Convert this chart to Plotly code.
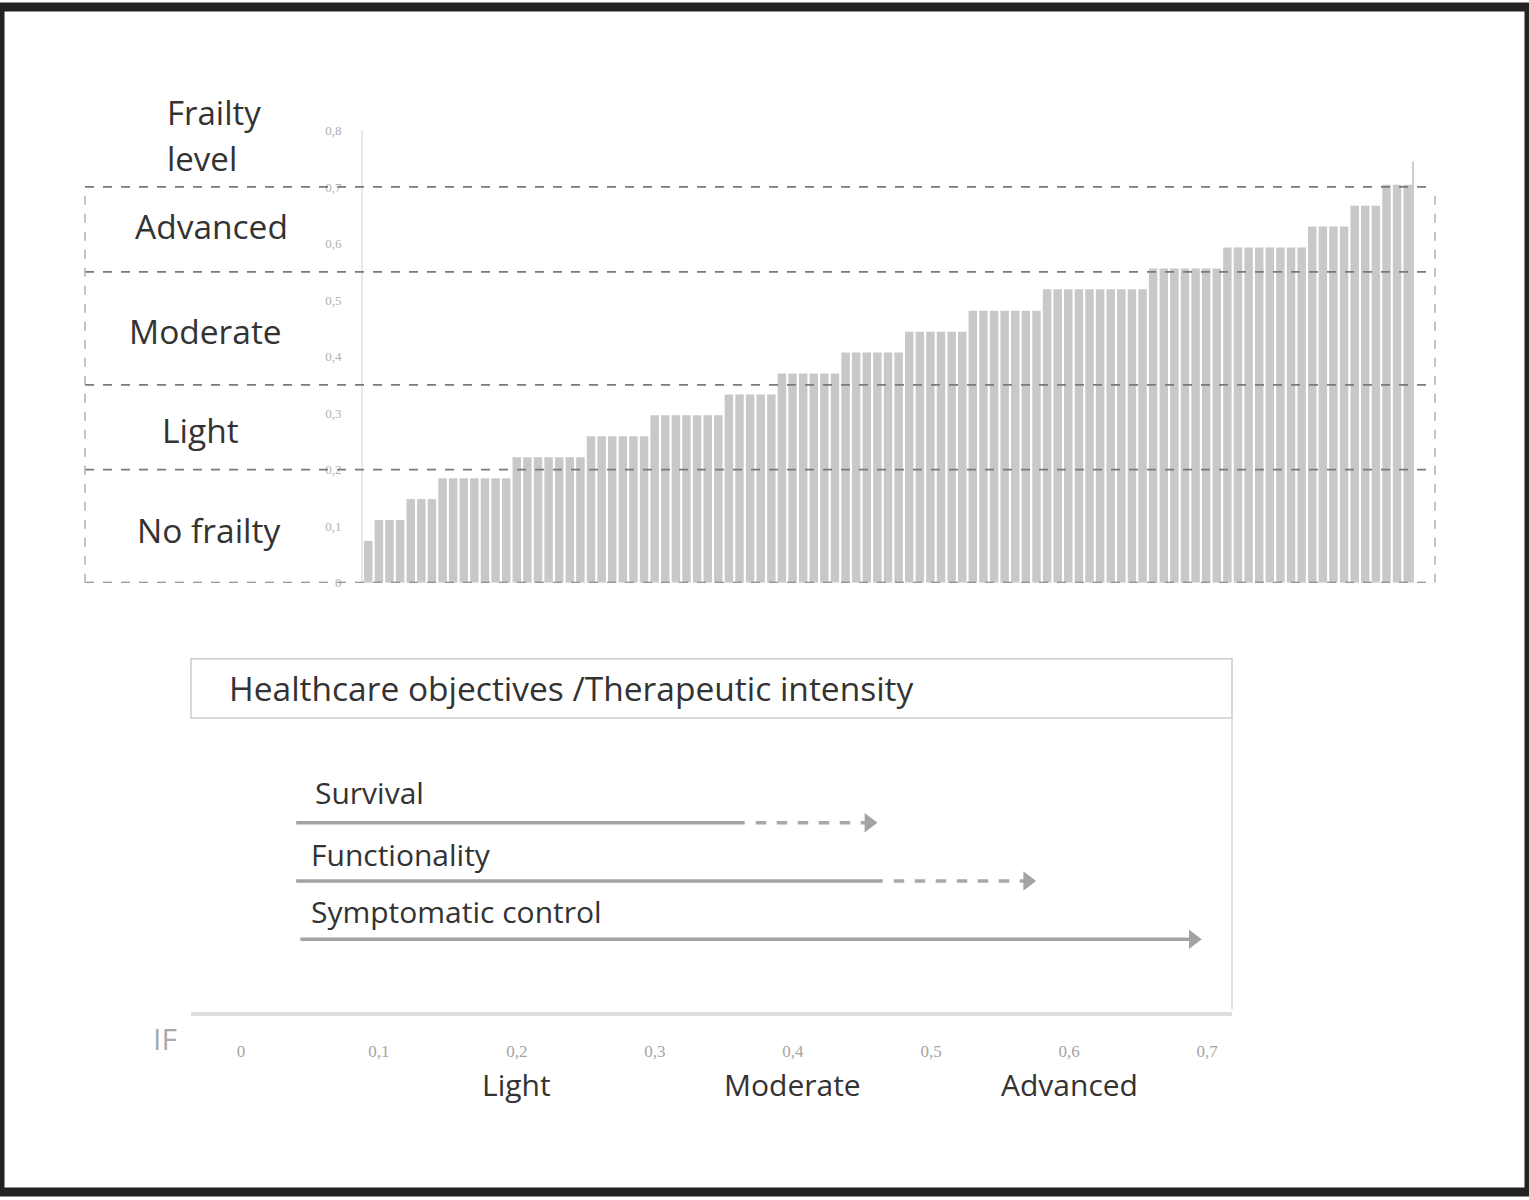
import plotly.graph_objects as go

W, H = 1529, 1200

# ---------------- data ----------------
# frailty index levels (sorted patients) and number of patients at each level
fi_levels = [0.074, 0.111, 0.148, 0.185, 0.222, 0.259, 0.296, 0.333, 0.370,
             0.407, 0.444, 0.481, 0.519, 0.556, 0.593, 0.630, 0.667, 0.704]
fi_counts = [1, 3, 3, 7, 7, 6, 7, 5, 6, 6, 6, 7, 10, 7, 8, 4, 3, 3]

thresholds = [0.2, 0.35, 0.55, 0.7]
level_names = ["No frailty", "Light", "Moderate", "Advanced"]

y_ticks = [0, 0.1, 0.2, 0.3, 0.4, 0.5, 0.6, 0.7, 0.8]
y_ticktext = ["0", "0,1", "0,2", "0,3", "0,4", "0,5", "0,6", "0,7", "0,8"]

x_ticks = [0, 0.1, 0.2, 0.3, 0.4, 0.5, 0.6, 0.7]
x_ticktext = ["0", "0,1", "0,2", "0,3", "0,4", "0,5", "0,6", "0,7"]

objectives = ["Survival", "Functionality", "Symptomatic control"]
obj_start = [0.04, 0.04, 0.043]
obj_solid_end = [0.365, 0.465, 0.69]
obj_dashed_end = [0.455, 0.57, None]

bottom_cats = ["Light", "Moderate", "Advanced"]
bottom_cat_pos = [0.2, 0.4, 0.6]

# ---------------- helpers ----------------
def X(px):
    return px / W

def Y(py):
    return 1 - py / H

bars = []
for lv, n in zip(fi_levels, fi_counts):
    bars.extend([lv] * n)
idx = list(range(len(bars)))

TXT = "#333333"
FONT = "Open Sans"

fig = go.Figure()

fig.add_trace(go.Bar(x=idx, y=bars, marker=dict(color="#c8c8c8", line=dict(width=0)),
                     xaxis="x", yaxis="y", showlegend=False, hoverinfo="y"))

# objective arrows
obj_y = [0.536, 0.3715, 0.2067]
for name, s, e, d, yy in zip(objectives, obj_start, obj_solid_end, obj_dashed_end, obj_y):
    fig.add_trace(go.Scatter(x=[s, e], y=[yy, yy], mode="lines",
                             line=dict(color="#a3a3a3", width=3.5),
                             xaxis="x2", yaxis="y2", showlegend=False, hoverinfo="skip"))
    end = e
    if d is not None:
        fig.add_trace(go.Scatter(x=[e + 0.008, d], y=[yy, yy], mode="lines",
                                 line=dict(color="#a8a8a8", width=3.5, dash="dash"),
                                 xaxis="x2", yaxis="y2", showlegend=False, hoverinfo="skip"))
        end = d
    fig.add_trace(go.Scatter(x=[end], y=[yy], mode="markers",
                             marker=dict(symbol="triangle-right", size=17, color="#a3a3a3"),
                             xaxis="x2", yaxis="y2", showlegend=False, hoverinfo="skip"))

shapes = []
dash_col = "#7a7a7a"
for t in [0] + thresholds:
    shapes.append(dict(type="line", xref="paper", yref="y", x0=X(85), x1=X(1435), y0=t, y1=t,
                       line=dict(color=dash_col, width=1.7, dash="dash")))
for xp in [85, 1435]:
    shapes.append(dict(type="line", xref="paper", yref="y", x0=X(xp), x1=X(xp), y0=0, y1=0.7,
                       line=dict(color="#b0b0b0", width=1.5, dash="dash")))
# right thin axis line
shapes.append(dict(type="line", xref="paper", yref="y", x0=X(1413), x1=X(1413), y0=0, y1=0.745,
                   line=dict(color="#9a9a9a", width=1)))
# header box
shapes.append(dict(type="rect", xref="paper", yref="paper", x0=X(191), x1=X(1232), y0=Y(720), y1=Y(660),
                   line=dict(color="#cccccc", width=1.5)))
shapes.append(dict(type="line", xref="paper", yref="paper", x0=X(1232), x1=X(1232), y0=Y(1015), y1=Y(720),
                   line=dict(color="#e2e2e2", width=2)))
# outer frame
shapes.append(dict(type="rect", xref="paper", yref="paper", x0=0, x1=1, y0=0, y1=1,
                   line=dict(color="#222222", width=9)))

ann = []
for word, py in [("Frailty", 107), ("level", 153)]:
    ann.append(dict(text=word, x=X(165), y=Y(py), xref="paper", yref="paper",
                    xanchor="left", yanchor="middle", showarrow=False,
                    font=dict(family=FONT, size=33, color=TXT)))
left_pos = {"Advanced": (211, 222), "Moderate": (205, 328), "Light": (200, 428), "No frailty": (209, 530)}
for nm in level_names:
    px, py = left_pos[nm]
    ann.append(dict(text=nm, x=X(px), y=Y(py), xref="paper", yref="paper", xanchor="center",
                    yanchor="middle", showarrow=False, font=dict(family=FONT, size=33.5, color=TXT)))

ann.append(dict(text="Healthcare objectives /Therapeutic intensity", x=X(227), y=Y(690), xref="paper",
                yref="paper", xanchor="left", yanchor="middle", showarrow=False,
                font=dict(family=FONT, size=33.5, color=TXT)))
for nm, py, px in zip(objectives, [795, 858, 916], [313, 309, 309]):
    ann.append(dict(text=nm, x=X(px), y=Y(py), xref="paper", yref="paper", xanchor="left",
                    yanchor="middle", showarrow=False, font=dict(family=FONT, size=30, color=TXT)))
for nm, p in zip(bottom_cats, bottom_cat_pos):
    ann.append(dict(text=nm, x=p, y=Y(1091), xref="x2", yref="paper", xanchor="center",
                    yanchor="middle", showarrow=False, font=dict(family=FONT, size=30, color=TXT)))
ann.append(dict(text="IF", x=X(165), y=Y(1045), xref="paper", yref="paper", xanchor="center",
                yanchor="middle", showarrow=False, font=dict(family=FONT, size=30, color="#aaaaaa")))

fig.update_layout(
    width=W, height=H, margin=dict(l=0, r=0, t=0, b=0),
    paper_bgcolor="white", plot_bgcolor="rgba(0,0,0,0)",
    bargap=0.2, showlegend=False,
    xaxis=dict(domain=[X(363), X(1413)], range=[-0.5, len(bars) - 0.5], visible=False, anchor="y"),
    yaxis=dict(domain=[Y(583), Y(125)], range=[0, 0.8], tickvals=y_ticks, ticktext=y_ticktext,
               tickfont=dict(family="Liberation Serif", size=13, color="#b0b0b0"),
               showline=True, linecolor="#e8e8e8", linewidth=2, showgrid=False, zeroline=False,
               ticks="", ticklabelstandoff=17, anchor="x"),
    xaxis2=dict(domain=[X(191), X(1232)], range=[-0.0362, 0.7181], tickvals=x_ticks, ticktext=x_ticktext,
                tickfont=dict(family="Liberation Serif", size=17, color="#a5a5a5"),
                showline=True, linecolor="#dddddd", linewidth=4, showgrid=False, zeroline=False,
                ticks="", ticklabelstandoff=20, anchor="y2"),
    yaxis2=dict(domain=[Y(1018), Y(660)], range=[0, 1], visible=False, anchor="x2"),
    shapes=shapes, annotations=ann,
)

fig.write_html(
    "out.html",
    config={"displayModeBar": False},
    post_script=("document.documentElement.style.margin='0';document.documentElement.style.padding='0';"
                 "document.documentElement.style.overflow='hidden';"
                 "document.body.style.margin='0';document.body.style.padding='0';"
                 "document.body.style.overflow='hidden';"),
)
